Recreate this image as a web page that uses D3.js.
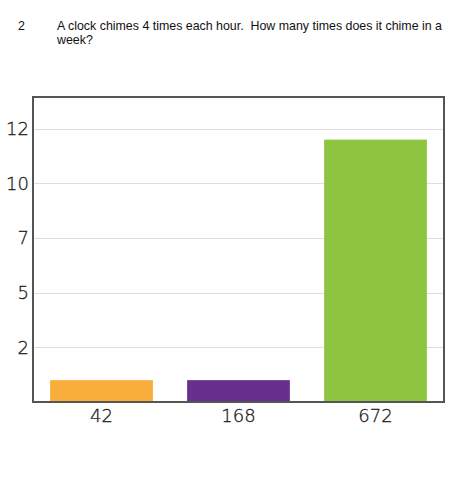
<!DOCTYPE html>
<html>
<head>
<meta charset="utf-8">
<script src="https://cdn.jsdelivr.net/npm/d3@7"></script>
<style>
  html, body { margin: 0; padding: 0; background: #fff; }
  svg { display: block; }
</style>
</head>
<body>
<svg id="chart" width="474" height="481"></svg>
<script>
const questionNumber = '2';
const questionLines = [
    'A clock chimes 4 times each hour.  How many times does it chime in a',
    'week?'
];

const categories = ['42', '168', '672'];
const counts = [1, 1, 12];
const barColors = ['#f9ae3b', '#68308c', '#8dc540'];

const yTickValues = [2.5, 5, 7.5, 10, 12.5];
const yTickLabels = ['2', '5', '7', '10', '12'];
const yMax = 13.95;

const svg = d3.select('#chart');

// question header
const header = svg.append('g')
    .style('font-family', '"Liberation Sans", Arial, sans-serif')
    .style('font-size', '12.4px')
    .style('fill', '#111');

header.append('text')
    .attr('x', 18)
    .attr('y', 30)
    .text(questionNumber);

header.selectAll('text.line')
    .data(questionLines)
    .enter()
    .append('text')
        .attr('class', 'line')
        .attr('xml:space', 'preserve')
        .style('white-space', 'pre')
        .attr('x', 57)
        .attr('y', (d, i) => 30 + i*14)
        .text(d => d);

// plot area
const box = { left: 33, top: 97, right: 444, bottom: 402 };

const x = d3.scaleBand()
    .domain(categories)
    .range([box.left, box.right])
    .paddingInner(0.25)
    .paddingOuter(0.125);

const y = d3.scaleLinear()
    .domain([0, yMax])
    .range([box.bottom, box.top]);

// gridlines
svg.append('g')
    .selectAll('line')
    .data(yTickValues)
    .enter()
    .append('line')
        .attr('x1', box.left)
        .attr('x2', box.right)
        .attr('y1', d => Math.round(y(d)) + 0.5)
        .attr('y2', d => Math.round(y(d)) + 0.5)
        .attr('stroke', '#dedede')
        .attr('stroke-width', 1);

// bars
svg.append('g')
    .selectAll('rect')
    .data(categories)
    .enter()
    .append('rect')
        .attr('x', d => x(d))
        .attr('width', x.bandwidth())
        .attr('y', (d, i) => y(counts[i]))
        .attr('height', (d, i) => y(0) - y(counts[i]))
        .attr('fill', (d, i) => barColors[i]);

// frame
svg.append('rect')
    .attr('x', box.left)
    .attr('y', box.top)
    .attr('width', box.right - box.left)
    .attr('height', box.bottom - box.top)
    .attr('fill', 'none')
    .attr('stroke', '#555')
    .attr('stroke-width', 2);

// axes
const yAxis = d3.axisLeft(y)
    .tickValues(yTickValues)
    .tickFormat((d, i) => yTickLabels[i])
    .tickSize(0)
    .tickPadding(4);

const xAxis = d3.axisBottom(x)
    .tickSize(0)
    .tickPadding(7);

const yG = svg.append('g')
    .attr('transform', `translate(${box.left},0)`)
    .call(yAxis);

const xG = svg.append('g')
    .attr('transform', `translate(0,${box.bottom})`)
    .call(xAxis);

[yG, xG].forEach(g => {
    g.select('.domain').remove();
    g.selectAll('text')
        .style('font-family', '"DejaVu Sans", sans-serif')
        .style('font-weight', 300)
        .style('font-size', '18px')
        .style('fill', '#1a1a1a')
        .style('stroke', '#1a1a1a')
        .style('stroke-width', 0.3);
});
</script>
</body>
</html>
